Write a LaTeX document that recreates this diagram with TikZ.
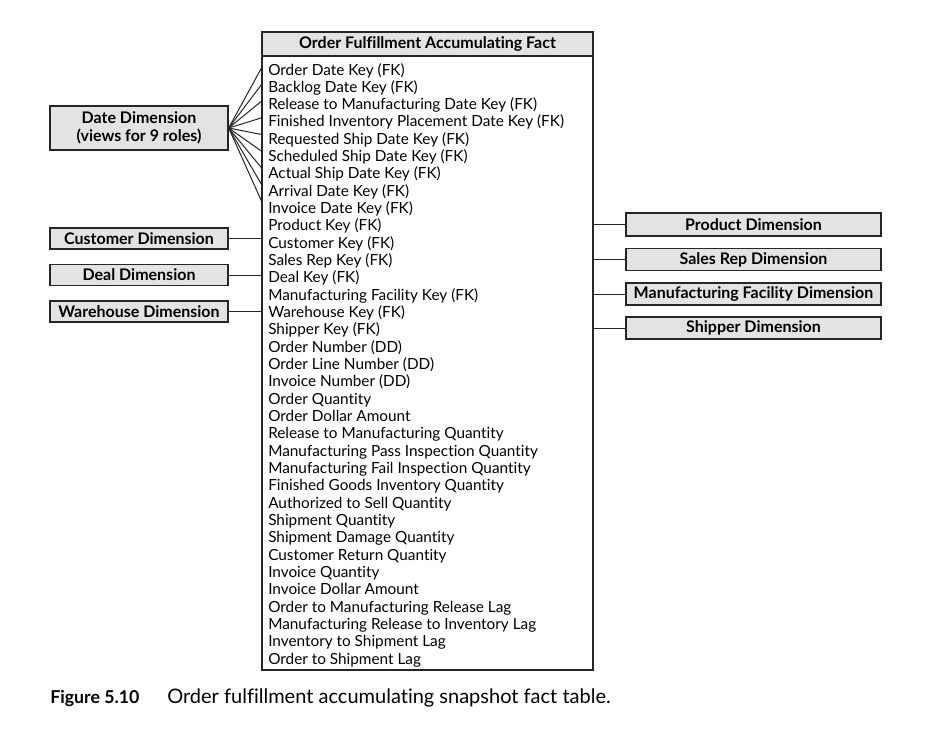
\documentclass[tikz,border=0pt]{standalone}
\usepackage{fontspec}
\setmainfont{Lato}[Ligatures=NoCommon]
\begin{document}
\begin{tikzpicture}[x=0.75pt,y=-0.75pt,
  dimbox/.style={draw=black!85, line width=1pt, fill=gray!22, inner sep=0pt, align=center,
    font=\bfseries\fontsize{12}{13.5}\selectfont},
  rowtext/.style={anchor=base west, inner sep=0pt, font=\fontsize{11.5}{13}\selectfont},
  conn/.style={line width=0.75pt, draw=black!85}]
\useasboundingbox (0,0) rectangle (929,746);
% fact table
\node[dimbox, minimum width={331*0.75pt}, minimum height={24*0.75pt}] (head) at (427.5,44) {Order Fulfillment Accumulating Fact};
\node[draw=black!85, line width=1pt, fill=white, inner sep=0pt, minimum width={331*0.75pt}, minimum height={614*0.75pt}] (body) at (427.5,363) {};
\foreach \t [count=\i] in {Order Date Key (FK),Backlog Date Key (FK),Release to Manufacturing Date Key (FK),Finished Inventory Placement Date Key (FK),Requested Ship Date Key (FK),Scheduled Ship Date Key (FK),Actual Ship Date Key (FK),Arrival Date Key (FK),Invoice Date Key (FK),Product Key (FK),Customer Key (FK),Sales Rep Key (FK),Deal Key (FK),Manufacturing Facility Key (FK),Warehouse Key (FK),Shipper Key (FK),Order Number (DD),Order Line Number (DD),Invoice Number (DD),Order Quantity,Order Dollar Amount,Release to Manufacturing Quantity,Manufacturing Pass Inspection Quantity,Manufacturing Fail Inspection Quantity,Finished Goods Inventory Quantity,Authorized to Sell Quantity,Shipment Quantity,Shipment Damage Quantity,Customer Return Quantity,Invoice Quantity,Invoice Dollar Amount,Order to Manufacturing Release Lag,Manufacturing Release to Inventory Lag,Inventory to Shipment Lag,Order to Shipment Lag}
  \node[rowtext] (r\i) at (268,{75+(\i-1)*17.33}) {\t};
% left dimensions
\node[dimbox, minimum width={178*0.75pt}, minimum height={44*0.75pt}] (date) at (139,128) {Date Dimension\\(views for 9 roles)};
\node[dimbox, minimum width={178*0.75pt}, minimum height={21*0.75pt}] (cust) at (139,238.5) {Customer Dimension};
\node[dimbox, minimum width={178*0.75pt}, minimum height={21*0.75pt}] (deal) at (139,275) {Deal Dimension};
\node[dimbox, minimum width={178*0.75pt}, minimum height={21*0.75pt}] (ware) at (139,311.5) {Warehouse Dimension};
% right dimensions
\node[dimbox, minimum width={255*0.75pt}, minimum height={23*0.75pt}] (prod) at (753.5,224.5) {Product Dimension};
\node[dimbox, minimum width={255*0.75pt}, minimum height={22*0.75pt}] (srep) at (753.5,259.5) {Sales Rep Dimension};
\node[dimbox, minimum width={255*0.75pt}, minimum height={22*0.75pt}] (mfg) at (753.5,294) {Manufacturing Facility Dimension};
\node[dimbox, minimum width={255*0.75pt}, minimum height={22*0.75pt}] (ship) at (753.5,328) {Shipper Dimension};
% fan from date dimension
\foreach \i in {1,...,9} {
  \coordinate (e\i) at (262,{67+(\i-1)*16.9});
  \draw[conn] (date.east) -- (e\i);
}
\foreach \n in {cust,deal,ware} \draw[conn] (\n.east) -- (\n.east -| body.west);
\foreach \n in {prod,srep,mfg,ship} \draw[conn] (\n.west) -- (\n.west -| body.east);
% caption
\node[anchor=base west, inner sep=0pt, font=\bfseries\fontsize{13.3}{15}\selectfont] (figno) at (50,703) {Figure 5.10};
\node[anchor=base west, inner sep=0pt, font=\fontsize{15}{17}\selectfont] (cap) at (167,703) {Order fulfillment accumulating snapshot fact table.};
\end{tikzpicture}
\end{document}
